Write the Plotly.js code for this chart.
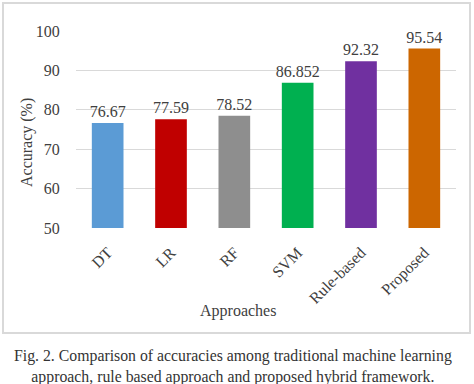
<!DOCTYPE html>
<html><head><meta charset="utf-8">
<script src="https://cdn.plot.ly/plotly-3.0.1.min.js"></script>
<style>body{margin:0;background:#fff}#c{width:474px;height:384px}</style>
</head><body><div id="c"></div>
<script>
const categories = ["DT", "LR", "RF", "SVM", "Rule-based", "Proposed"];
const accuracy = [76.67, 77.59, 78.52, 86.852, 92.32, 95.54];
const labels = ["76.67", "77.59", "78.52", "86.852", "92.32", "95.54"];
const colors = ["#5B9BD5", "#C00000", "#8E8E8E", "#00B050", "#7030A0", "#CC6600"];
const yTicks = [50, 60, 70, 80, 90, 100];

const F = "Liberation Serif, Times New Roman, serif";
const L = 76, R = 456, T = 31, B = 228;
const px = x => (x - L) / (R - L);
const py = y => (B - y) / (B - T);

Plotly.newPlot("c", [{
  type: "bar", x: categories, y: accuracy,
  marker: {color: colors},
  text: labels, textposition: "outside", cliponaxis: false, constraintext: "none",
  textfont: {family: F, size: 16, color: "#404040"},
  hoverinfo: "none"
}], {
  width: 474, height: 384,
  margin: {l: L, r: 474 - R, t: T, b: 384 - B},
  paper_bgcolor: "#fff", plot_bgcolor: "#fff",
  bargap: 0.5, showlegend: false,
  font: {family: F, size: 16, color: "#404040"},
  xaxis: {tickangle: -45, showgrid: false, zeroline: false, showline: false,
          ticks: "outside", ticklen: 8, tickcolor: "rgba(0,0,0,0)",
          tickfont: {family: F, size: 16, color: "#404040"}},
  yaxis: {range: [50, 100], tickvals: yTicks,
          showgrid: true, gridcolor: "#d9d9d9", gridwidth: 1, zeroline: false, showline: false,
          ticks: "outside", ticklen: 12, tickcolor: "rgba(0,0,0,0)",
          tickfont: {family: F, size: 16, color: "#404040"}},
  shapes: [
    {type: "rect", xref: "paper", yref: "paper", x0: px(3), x1: px(470), y0: py(3), y1: py(333),
     line: {color: "#d9d9d9", width: 2}, fillcolor: "rgba(0,0,0,0)", layer: "below"}
  ],
  annotations: [
    {text: "Accuracy (%)", xref: "paper", yref: "paper", x: px(27), y: py(142), textangle: -90,
     showarrow: false, font: {family: F, size: 16, color: "#404040"}, xanchor: "center", yanchor: "middle"},
    {text: "Approaches", xref: "paper", yref: "paper", x: px(238), y: py(311),
     showarrow: false, font: {family: F, size: 16, color: "#404040"}, xanchor: "center", yanchor: "middle"},
    {text: "Fig. 2. Comparison of accuracies among traditional machine learning<br>approach, rule based approach and proposed hybrid framework.",
     xref: "paper", yref: "paper", x: px(233), y: py(366), showarrow: false, align: "center",
     font: {family: F, size: 15.8, color: "#333"}, xanchor: "center", yanchor: "middle"}
  ]
}, {staticPlot: true});
</script></body></html>
